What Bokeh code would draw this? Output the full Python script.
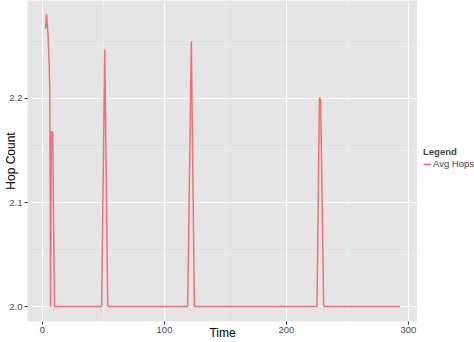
from bokeh.plotting import figure
from bokeh.layouts import row
from bokeh.models import Range1d, FixedTicker, NumeralTickFormatter, Legend, LegendItem
from bokeh.embed import file_html
from bokeh.resources import INLINE

# Data
time = [2.5, 3.3, 4.5, 5.5, 6.0, 6.6, 7.2, 7.8, 8.4, 9.8,
        48.5, 51.0, 53.5,
        119.0, 122.0, 124.5,
        225.0, 227.0, 228.0, 230.5,
        293.0]
hops = [2.267, 2.281, 2.262, 2.232, 2.205, 2.0, 2.168, 2.168, 2.166, 2.0,
        2.0, 2.247, 2.0,
        2.0, 2.255, 2.0,
        2.0, 2.201, 2.198, 2.0,
        2.0]

x_ticks = [0, 100, 200, 300]
x_minor = [50, 150, 250]
y_ticks = [2.0, 2.1, 2.2]
y_minor = [2.05, 2.15, 2.25]
series_name = "Avg Hops"
legend_title = "Legend"

FONT = "Liberation Sans"
LINE_COLOR = "#F0707A"

p = figure(width=417, height=342, output_backend="svg", toolbar_location=None,
           x_range=Range1d(-12.3, 307.4), y_range=Range1d(1.9856, 2.2942),
           min_border_left=27, min_border_right=0, min_border_top=0, min_border_bottom=21,
           background_fill_color="#E5E5E5", border_fill_color="white",
           outline_line_color=None)

r = p.line(time, hops, line_color=LINE_COLOR, line_width=1.5)

p.xaxis.ticker = FixedTicker(ticks=x_ticks, minor_ticks=x_minor)
p.yaxis.ticker = FixedTicker(ticks=y_ticks, minor_ticks=y_minor)
p.yaxis.formatter = NumeralTickFormatter(format="0.0")
p.xaxis.axis_label = "Time"
p.yaxis.axis_label = "Hop Count"

for ax in (p.xaxis[0], p.yaxis[0]):
    ax.axis_line_color = None
    ax.major_tick_line_color = "#333333"
    ax.major_tick_out = 3
    ax.major_tick_in = 0
    ax.minor_tick_line_color = None
    ax.major_label_text_font = FONT
    ax.major_label_text_font_size = "9.5px"
    ax.major_label_text_color = "#4D4D4D"
    ax.major_label_standoff = 1
    ax.axis_label_text_font = FONT
    ax.axis_label_text_font_size = "12px"
    ax.axis_label_text_font_style = "normal"
    ax.axis_label_text_color = "black"

p.xaxis.axis_label_standoff = -10
p.yaxis.axis_label_standoff = -12

for g in (p.xgrid[0], p.ygrid[0]):
    g.grid_line_color = "white"
    g.grid_line_width = 1.2
    g.minor_grid_line_color = "#F2F2F2"
    g.minor_grid_line_width = 0.6

# Narrow side figure that only holds the legend
q = figure(width=57, height=342, output_backend="svg", toolbar_location=None,
           x_axis_location=None, y_axis_location=None,
           min_border=0, outline_line_color=None,
           background_fill_color="white", border_fill_color="white")
q.grid.visible = False
key = q.line(x=time[:1], y=hops[:1], line_color=LINE_COLOR, line_width=1.5)

legend = Legend(items=[LegendItem(label=series_name, renderers=[key])],
                title=legend_title, location=(6, 152))
legend.title_text_font = FONT
legend.title_text_font_size = "9.5px"
legend.title_text_font_style = "bold"
legend.title_standoff = 1
legend.label_text_font = FONT
legend.label_text_font_size = "9.5px"
legend.label_height = 10
legend.glyph_width = 8
legend.glyph_height = 10
legend.label_standoff = 2
legend.padding = 0
legend.margin = 0
legend.spacing = 0
legend.border_line_color = None
legend.background_fill_alpha = 0
q.add_layout(legend, "center")

layout = row(p, q, spacing=0)
open("out.html", "w").write(file_html(layout, INLINE))
